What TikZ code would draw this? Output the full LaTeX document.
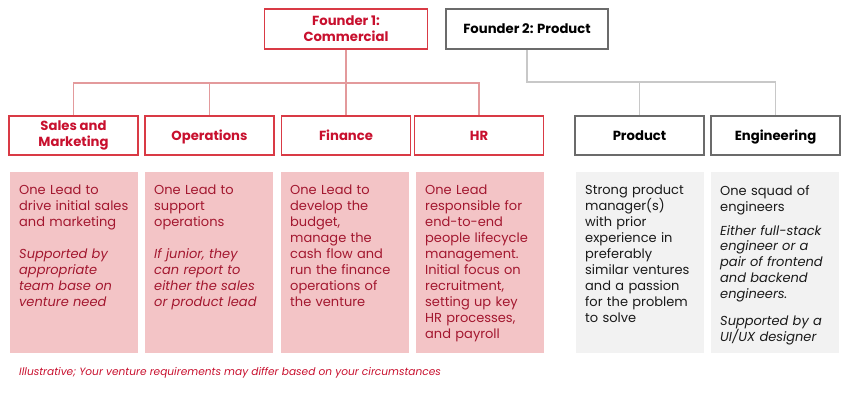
\documentclass[tikz,border=0pt]{standalone}
\usepackage{fontspec}
\setmainfont{Poppins}
\definecolor{redborder}{HTML}{D93A45}
\definecolor{redtext}{HTML}{C8102E}
\definecolor{redconn}{HTML}{E39A9C}
\definecolor{bodyred}{HTML}{A3172F}
\definecolor{pinkfill}{HTML}{F3C4C6}
\definecolor{grayborder}{HTML}{6B6B6B}
\definecolor{grayconn}{HTML}{C8C8C8}
\definecolor{grayfill}{HTML}{F2F2F2}
\definecolor{darktext}{HTML}{1A1A1A}
\begin{document}
\begin{tikzpicture}[x=1pt,y=-1pt,
  hdr/.style={draw, line width=1.8pt, minimum width=129pt, minimum height=39pt, inner sep=2pt,
    align=center, font=\fontsize{13.2}{16}\selectfont\bfseries},
  oneline/.style={text height=9.6pt, text depth=0.6pt},
  redhdr/.style={hdr, draw=redborder, text=redtext},
  grayhdr/.style={hdr, draw=grayborder, text=black},
  panel/.style={draw=none, minimum width=128pt, minimum height=181pt, anchor=north west, inner sep=0pt},
  pinkpanel/.style={panel, fill=pinkfill},
  graypanel/.style={panel, fill=grayfill},
  body/.style={anchor=north west, inner sep=0pt, text width=124pt, align=left,
    font=\fontsize{13}{15.95}\selectfont},
  redbody/.style={body, text=bodyred},
  graybody/.style={body, text=darktext},
  rline/.style={draw=redconn, line width=1.6pt},
  gline/.style={draw=grayconn, line width=1.6pt}
]
\useasboundingbox (0,0) rectangle (849,400);

% top level
\node[redhdr, minimum width=163pt, minimum height=40pt] (f1) at (346,29) {Founder 1:\\Commercial};
\node[grayhdr, oneline, minimum width=162pt, minimum height=40pt] (f2) at (527,29) {Founder 2: Product};

% second level
\node[redhdr] (sales) at (73.5,135.5) {Sales and\\Marketing};
\node[redhdr, oneline] (ops) at (209.5,135.5) {Operations};
\node[redhdr, oneline] (fin) at (346,135.5) {Finance};
\node[redhdr, oneline] (hr) at (479,135.5) {HR};
\node[grayhdr, oneline] (prod) at (639.5,135.5) {Product};
\node[grayhdr, oneline] (eng) at (775.5,135.5) {Engineering};

% connectors
\coordinate (rbar) at (0,83);
\coordinate (gbar) at (0,82);
\draw[rline] (f1.south) -- (fin.north);
\draw[rline] (sales.north) -- (sales.north |- rbar) -- (hr.north |- rbar) -- (hr.north);
\draw[rline] (ops.north) -- (ops.north |- rbar);
\draw[gline] (f2.south) -- (f2.south |- gbar) -- (eng.north |- gbar) -- (eng.north);
\draw[gline] (prod.north) -- (prod.north |- gbar);

% panels
\node[pinkpanel] (p1) at (10,172) {};
\node[pinkpanel] (p2) at (145,172) {};
\node[pinkpanel] (p3) at (281,172) {};
\node[pinkpanel] (p4) at (416,172) {};
\node[graypanel] (p5) at (576,172) {};
\node[graypanel] (p6) at (711,172) {};

\node[redbody] (t1) at ([shift={(9,13)}]p1.north west) {One Lead to\\drive initial sales\\and marketing\\[16pt]\itshape Supported by\\appropriate\\team base on\\venture need};
\node[redbody] (t2) at ([shift={(9,13)}]p2.north west) {One Lead to\\support\\operations\\[16pt]\itshape If junior, they\\can report to\\either the sales\\or product lead};
\node[redbody] (t3) at ([shift={(9,13)}]p3.north west) {One Lead to\\develop the\\budget,\\manage the\\cash flow and\\run the finance\\operations of\\the venture};
\node[redbody] (t4) at ([shift={(9,13)}]p4.north west) {One Lead\\responsible for\\end-to-end\\people lifecycle\\management.\\Initial focus on\\recruitment,\\setting up key\\HR processes,\\and payroll};
\node[graybody] (t5) at ([shift={(9,13)}]p5.north west) {Strong product\\manager(s)\\with prior\\experience in\\preferably\\similar ventures\\and a passion\\for the problem\\to solve};
\node[graybody] (t6) at ([shift={(9,13)}]p6.north west) {One squad of\\engineers\\[8pt]\itshape Either full-stack\\engineer or a\\pair of frontend\\and backend\\engineers.\\[11pt]Supported by a\\UI/UX designer};

% footnote
\node[anchor=west, inner sep=0pt, text=redtext, font=\fontsize{10.6}{13}\selectfont\itshape] (note) at (19,373) {Illustrative; Your venture requirements may differ based on your circumstances};
\end{tikzpicture}
\end{document}
